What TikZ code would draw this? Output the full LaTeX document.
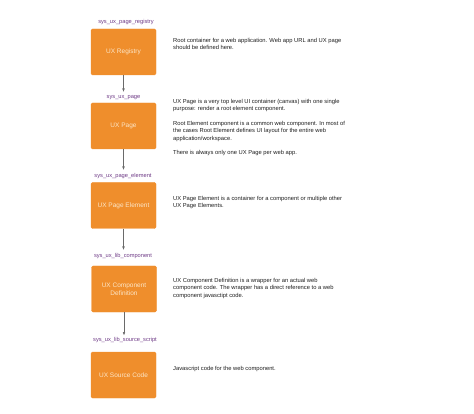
\documentclass[tikz,border=0pt]{standalone}
\usepackage{fontspec}
\setmainfont{Liberation Sans}
\usetikzlibrary{arrows.meta}

\definecolor{uxorange}{HTML}{EF8E2C}
\definecolor{uxcream}{HTML}{FCE6C8}
\definecolor{uxpurple}{HTML}{6E3A86}
\definecolor{uxgrey}{HTML}{6A6A6A}
\definecolor{uxtext}{HTML}{1E1E1E}

\begin{document}
\begin{tikzpicture}[
  x = 1pt, y = -1pt,
  every node/.style = {inner sep = 0pt},
  table/.style = {draw = uxorange, fill = uxorange, rounded corners = 1.5pt,
                  minimum width = 65pt, minimum height = 46pt, text = uxcream,
                  align = center, font = \fontsize{6.5}{8}\selectfont},
  tabname/.style = {text = uxpurple, font = \fontsize{5.7}{6}\selectfont},
  note/.style = {anchor = north west, align = left, text = uxtext,
                 font = \fontsize{5.8}{7.5}\selectfont},
  link/.style = {draw = uxgrey, line width = 0.5pt,
                 -{Latex[length = 3.5pt, width = 2.6pt]}},
  ]
  \useasboundingbox (0,0) rectangle (474,414);

  % tables
  \node[table] (reg) at (123.5,52) {UX Registry};
  \node[table] (page) at (123.5,126) {UX Page};
  \node[table] (elem) at (123.5,205.5) {UX Page Element};
  \node[table] (comp) at (124,289) {UX Component\\Definition};
  \node[table] (src) at (123.5,375) {UX Source Code};

  % table names
  \node[tabname] (reglbl) at (126,22) {sys\_ux\_page\_registry};
  \node[tabname] (pagelbl) at (123.5,98) {sys\_ux\_page};
  \node[tabname] (elemlbl) at (123,176) {sys\_ux\_page\_element};
  \node[tabname] (complbl) at (123,256) {sys\_ux\_lib\_component};
  \node[tabname] (srclbl) at (125,340) {sys\_ux\_lib\_source\_script};

  % links
  \draw[link] (reg.south) -- (reg.south |- 0,92);
  \draw[link] (page.south) -- (page.south |- 0,170);
  \draw[link] (elem.south) -- (elem.south |- 0,250);
  \draw[link] (comp.south) -- (comp.south |- 0,335.5);

  % notes
  \node[note] (regnote) at (173,38) {Root container for a web application. Web app URL and UX page\\
    should be defined here.};
  \node[note] (pagenote) at (173,99) {UX Page is a very top level UI container (canvas) with one single\\
    purpose: render a root element component.\\[7pt]
    Root Element component is a common web component. In most of\\
    the cases Root Element defines UI layout for the entire web\\
    application/workspace.\\[7pt]
    There is always only one UX Page per web app.};
  \node[note] (elemnote) at (173,196) {UX Page Element is a container for a component or multiple other\\
    UX Page Elements.};
  \node[note] (compnote) at (173,278) {UX Component Definition is a wrapper for an actual web\\
    component code. The wrapper has a direct reference to a web\\
    component javasctipt code.};
  \node[note] (srcnote) at (173,366) {Javascript code for the web component.};
\end{tikzpicture}
\end{document}
